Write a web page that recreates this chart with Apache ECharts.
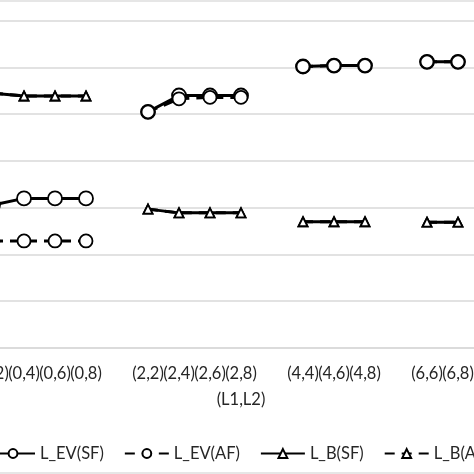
<!DOCTYPE html>
<html>
<head>
<meta charset="utf-8">
<script src="https://cdn.jsdelivr.net/npm/echarts@6/dist/echarts.min.js"></script>
<style>
html,body{margin:0;padding:0;background:#fff;overflow:hidden;width:474px;height:474px;}
#c{position:absolute;left:-40px;top:0;width:600px;height:474px;}
</style>
</head>
<body>
<div id="c"></div>
<script>
const categories = ['(0,2)','(0,4)','(0,6)','(0,8)','','(2,2)','(2,4)','(2,6)','(2,8)','','(4,4)','(4,6)','(4,8)','','(6,6)','(6,8)',''];
const lEvSF = [3.06,3.20,3.20,3.20,null,5.05,5.40,5.40,5.40,null,6.02,6.04,6.04,null,6.12,6.12,null];
const lEvAF = [2.29,2.29,2.29,2.29,null,5.05,5.33,5.36,5.36,null,6.02,6.04,6.04,null,6.12,6.12,null];
const lBSF  = [5.45,5.39,5.39,5.39,null,2.97,2.89,2.89,2.89,null,2.70,2.70,2.70,null,2.69,2.69,null];
const lBAF  = [5.45,5.39,5.39,5.39,null,2.97,2.89,2.89,2.89,null,2.70,2.70,2.70,null,2.69,2.69,null];
const yTicks = [0,1,2,3,4,5,6,7];
const seriesNames = ['L_EV(SF)','L_EV(AF)','L_B(SF)','L_B(AF)'];

const chart = echarts.init(document.getElementById('c'), null, {renderer:'canvas'});
const font = 'Lato';
const txtColor = '#262626';
function mk(name, data, symbol, size, dashed) {
  return {
    name: name, type: 'line', data: data, connectNulls: false,
    symbol: symbol, symbolSize: size, showAllSymbol: true,
    lineStyle: {color:'#000', width: 3, type: dashed ? [10,7] : 'solid'},
    itemStyle: {color:'#fff', borderColor:'#000', borderWidth: 1.8},
    emphasis: {disabled: true}, animation: false
  };
}
chart.setOption({
  animation: false,
  backgroundColor: '#fff',
  grid: {left: 17.5, right: 55.5, top: 20.7, bottom: 126, containLabel: false},
  xAxis: {
    type: 'category', data: categories, boundaryGap: true,
    axisLine: {show: true, lineStyle: {color: '#d9d9d9', width: 1.5}},
    axisTick: {show: false},
    axisLabel: {interval: 0, margin: 17, color: txtColor, fontFamily: font, fontSize: 16.5},
    name: '(L1,L2)', nameLocation: 'middle', nameGap: 43,
    nameTextStyle: {color: txtColor, fontFamily: font, fontSize: 16.5}
  },
  yAxis: {
    type: 'value', min: yTicks[0], max: yTicks[yTicks.length-1], interval: 1,
    axisLine: {show: false}, axisTick: {show: false}, axisLabel: {show: false},
    splitLine: {lineStyle: {color: '#d9d9d9', width: 1.5}}
  },
  legend: {
    left: 25, top: 440, itemWidth: 44, itemHeight: 11, itemGap: 20,
    textStyle: {color: txtColor, fontFamily: font, fontSize: 16.5},
    data: seriesNames
  },
  graphic: [
    {type:'rect', shape:{x:0,y:0,width:600,height:2}, style:{fill:'#e6e6e6'}, silent:true},
    {type:'rect', shape:{x:0,y:472,width:600,height:2}, style:{fill:'#e6e6e6'}, silent:true}
  ],
  series: [
    mk(seriesNames[0], lEvSF, 'circle', 14, false),
    mk(seriesNames[1], lEvAF, 'circle', 13, true),
    mk(seriesNames[2], lBSF, 'triangle', 9, false),
    mk(seriesNames[3], lBAF, 'triangle', 9, true)
  ]
});
</script>
</body>
</html>
